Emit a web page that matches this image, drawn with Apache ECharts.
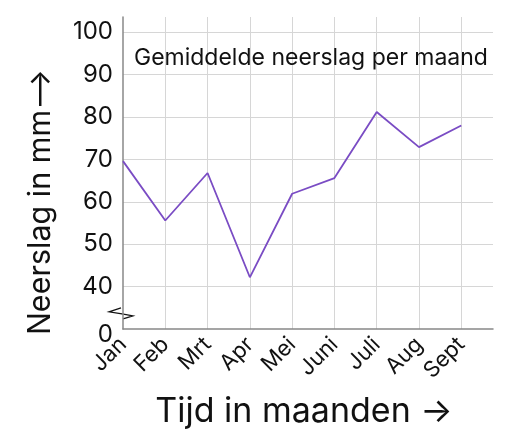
<!DOCTYPE html>
<html lang="nl">

<head>
    <meta charset="UTF-8">
    <title>Gemiddelde neerslag per maand</title>
    <script src="https://cdn.jsdelivr.net/npm/echarts@6/dist/echarts.min.js"></script>
    <style>
        html, body { margin: 0; padding: 0; background: #fff; }
    </style>
</head>

<body>
    <div id="container" style="width: 512px;height: 435px"></div>

    <script>
        // data
        var maanden = ['Jan', 'Feb', 'Mrt', 'Apr', 'Mei', 'Juni', 'Juli', 'Aug', 'Sept'];
        var neerslag = [69.6, 55.6, 66.8, 42.2, 61.9, 65.6, 81.2, 72.9, 78.0];
        var yTicks = [30, 40, 50, 60, 70, 80, 90, 100];
        var yTickLabels = ['0', '40', '50', '60', '70', '80', '90', '100'];

        var font = 'Inter';
        var myChart = echarts.init(document.getElementById('container'));

        myChart.setOption({
            backgroundColor: '#fff',
            animation: false,
            title: {
                text: 'Gemiddelde neerslag per maand',
                left: 129,
                top: 42,
                textStyle: { fontFamily: font, fontSize: 23, fontWeight: 'normal', color: '#111' }
            },
            grid: { left: 123, right: 19, top: 17, bottom: 106 },
            xAxis: {
                type: 'value',
                min: 0,
                max: 8.75,
                interval: 1,
                name: 'Tijd in maanden →',
                nameLocation: 'middle',
                nameGap: 66,
                nameTextStyle: { fontFamily: font, fontSize: 34, color: '#111', padding: [0, 8, 0, 0] },
                axisLine: { show: true, lineStyle: { color: '#888', width: 1.5 } },
                axisTick: { show: false },
                axisLabel: {
                    rotate: 45,
                    margin: 12,
                    fontFamily: font,
                    fontSize: 22,
                    color: '#111',
                    formatter: function (v) {
                        return Number.isInteger(v) ? (maanden[v] || '') : '';
                    }
                },
                splitLine: { show: true, showMinLine: false, showMaxLine: false, lineStyle: { color: '#d6d6d6' } }
            },
            yAxis: {
                type: 'value',
                min: 30,
                max: 103.6,
                interval: 10,
                name: 'Neerslag in mm⟶',
                nameLocation: 'middle',
                nameGap: 67,
                nameTextStyle: { fontFamily: font, fontSize: 30.5, color: '#111', padding: [0, 58, 0, 0] },
                axisLine: { show: true, lineStyle: { color: '#888', width: 1.5 } },
                axisTick: { show: false },
                axisLabel: {
                    margin: 10,
                    fontFamily: font,
                    fontSize: 24,
                    color: '#111',
                    formatter: function (v) {
                        var i = yTicks.indexOf(v);
                        if (i < 0) return '';
                        return i === 0 ? '{z|' + yTickLabels[i] + '}' : yTickLabels[i];
                    },
                    rich: {
                        z: { fontFamily: font, fontSize: 24, color: '#111', padding: [12, 0, 0, 0] }
                    }
                },
                splitLine: { show: true, showMinLine: false, showMaxLine: false, lineStyle: { color: '#d6d6d6' } }
            },
            series: [{
                type: 'line',
                data: neerslag.map(function (v, i) { return [i, v]; }),
                symbol: 'none',
                lineStyle: { color: '#7a4cc4', width: 1.8 }
            }]
        });

        // as-onderbreking (zigzag) tussen 0 en 40
        var p = myChart.convertToPixel({ gridIndex: 0 }, [0, 33.7]);
        myChart.setOption({
            graphic: [{
                type: 'polyline',
                x: p[0],
                y: p[1],
                shape: { points: [[-2, -5.5], [-14, -1.5], [-1, 0.5], [10, 2.5], [0, 5.5]] },
                style: { stroke: '#111', lineWidth: 1.2, fill: null }
            }]
        });
    </script>
</body>

</html>
